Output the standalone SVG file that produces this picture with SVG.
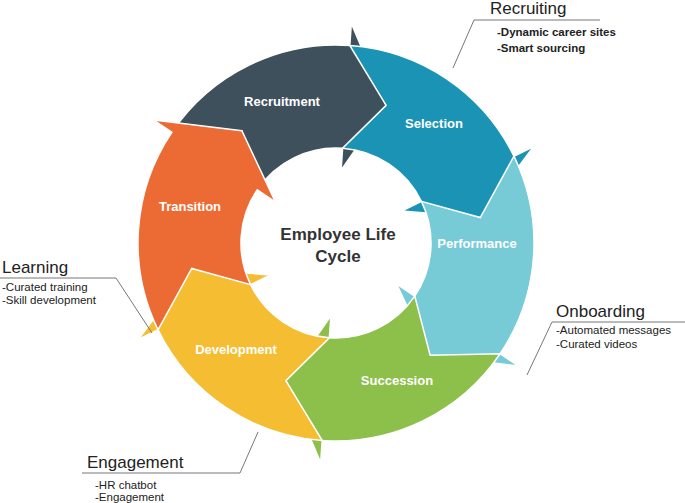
<svg xmlns="http://www.w3.org/2000/svg" xmlns:xlink="http://www.w3.org/1999/xlink" width="685" height="503" viewBox="0 0 685 503">
<style>
.seg{stroke:#fff;stroke-width:1.5;stroke-linejoin:miter}
.lbl{font-family:"Liberation Sans",Arial,sans-serif;font-weight:bold;font-size:13px;fill:#fff;text-anchor:middle}
.ctr{font-family:"Liberation Sans",Arial,sans-serif;font-weight:bold;font-size:17px;fill:#333;text-anchor:middle}
.ttl{font-family:"Liberation Sans",Arial,sans-serif;font-size:17px;fill:#222}
.itm{font-family:"Liberation Sans",Arial,sans-serif;font-size:11.5px;fill:#222}
.ln{fill:none;stroke:#777;stroke-width:1}
</style>
<defs>
<path id="arc" d="M0,-198 A198,198 0 0 1 171.47,-99 L190.5,-110 L142.1,-35.4 L63.2,-36.5 L82.3,-47.5 A95,95 0 0 0 0,-95 L40.4,-140.8 Z"/>
</defs>
<rect width="685" height="503" fill="#fff"/>
<g id="recruitment"><use xlink:href="#arc" class="seg" fill="#3e505c" transform="translate(336,243) rotate(-56)"/><text class="lbl" x="282" y="106">Recruitment</text></g>
<g id="selection"><use xlink:href="#arc" class="seg" fill="#1a93b4" transform="translate(336,243) rotate(4)"/><text class="lbl" x="434" y="128">Selection</text></g>
<g id="performance"><use xlink:href="#arc" class="seg" fill="#76cbd7" transform="translate(336,243) rotate(64)"/><text class="lbl" x="477" y="248">Performance</text></g>
<g id="succession"><use xlink:href="#arc" class="seg" fill="#8cc04b" transform="translate(336,243) rotate(124)"/><text class="lbl" x="397" y="385">Succession</text></g>
<g id="development"><use xlink:href="#arc" class="seg" fill="#f5bd32" transform="translate(336,243) rotate(184)"/><text class="lbl" x="236" y="354">Development</text></g>
<g id="transition"><use xlink:href="#arc" class="seg" fill="#ec6b35" transform="translate(336,243) rotate(244)"/><text class="lbl" x="190" y="211">Transition</text></g>
<g id="center"><text class="ctr" x="338" y="240">Employee Life</text><text class="ctr" x="338" y="262">Cycle</text></g>
<g id="connectors">
<path class="ln" d="M453,68 L474,20 L600,20"/>
<path class="ln" d="M527,375 L552,322 L685,322"/>
<path class="ln" d="M0,278 L116,278 L152,333"/>
<path class="ln" d="M82,473 L240,473 L258,432"/>
</g>
<g id="recruiting"><text class="ttl" x="490" y="14">Recruiting</text><text class="itm" font-weight="bold" x="497" y="36">-Dynamic career sites</text><text class="itm" font-weight="bold" x="497" y="52">-Smart sourcing</text></g>
<g id="onboarding"><text class="ttl" x="556" y="317">Onboarding</text><text class="itm" x="556" y="334">-Automated messages</text><text class="itm" x="556" y="348">-Curated videos</text></g>
<g id="learning"><text class="ttl" x="2" y="273">Learning</text><text class="itm" x="2" y="291">-Curated training</text><text class="itm" x="2" y="304">-Skill development</text></g>
<g id="engagement"><text class="ttl" x="87" y="468">Engagement</text><text class="itm" x="95" y="489">-HR chatbot</text><text class="itm" x="95" y="501">-Engagement</text></g>
</svg>
